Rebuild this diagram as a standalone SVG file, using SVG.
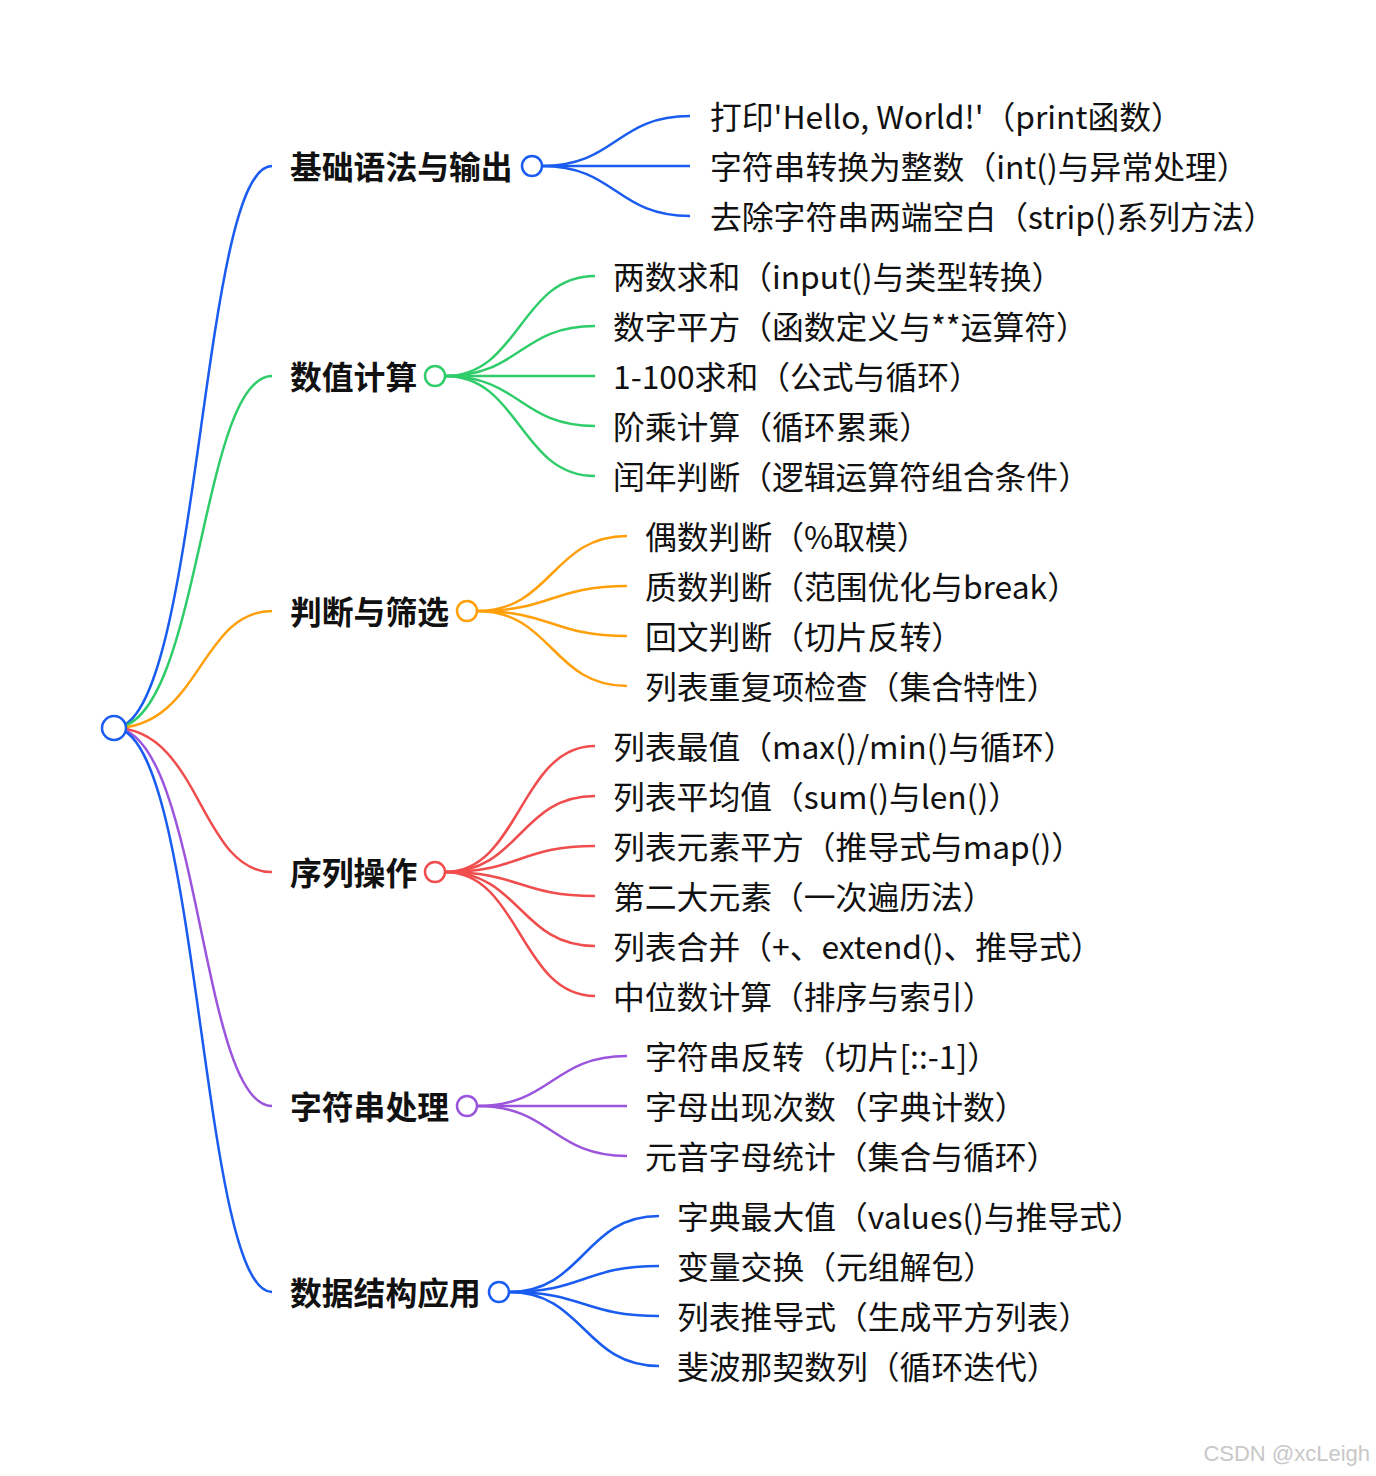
<svg xmlns="http://www.w3.org/2000/svg" width="1376" height="1476" viewBox="0 0 1376 1476">
<style>
.c{font-family:"Noto Sans CJK SC","Noto Sans",sans-serif;font-size:31.8px;font-weight:bold;fill:#111}
.l{font-family:"Noto Sans CJK SC","Noto Sans",sans-serif;font-size:31.8px;fill:#111}
path{fill:none;stroke-width:2.5}
.b{stroke:#1a5cf0}.g{stroke:#2fcc6a}.o{stroke:#ff9f0a}.r{stroke:#f04e4e}.p{stroke:#9b55dc}
circle{fill:#fff;stroke-width:2.5}
</style>
<rect width="1376" height="1476" fill="#fff"/>
<g id="connectors">
<path class="b" d="M114,728 C200,728 200,166 272,166"/>
<path class="g" d="M114,728 C200,728 200,376 272,376"/>
<path class="o" d="M114,728 C200,728 200,611 272,611"/>
<path class="r" d="M114,728 C200,728 200,872 272,872"/>
<path class="p" d="M114,728 C200,728 200,1106 272,1106"/>
<path class="b" d="M114,728 C200,728 200,1292 272,1292"/>
<path class="b" d="M542,166 C616,166 616,116 690,116"/>
<path class="b" d="M542,166 L690,166"/>
<path class="b" d="M542,166 C616,166 616,216 690,216"/>
<path class="g" d="M445,376 C520,376 520,276 595,276"/>
<path class="g" d="M445,376 C520,376 520,326 595,326"/>
<path class="g" d="M445,376 L595,376"/>
<path class="g" d="M445,376 C520,376 520,426 595,426"/>
<path class="g" d="M445,376 C520,376 520,476 595,476"/>
<path class="o" d="M477,611 C552,611 552,536 627,536"/>
<path class="o" d="M477,611 C552,611 552,586 627,586"/>
<path class="o" d="M477,611 C552,611 552,636 627,636"/>
<path class="o" d="M477,611 C552,611 552,686 627,686"/>
<path class="r" d="M445,872 C520,872 520,746 595,746"/>
<path class="r" d="M445,872 C520,872 520,796 595,796"/>
<path class="r" d="M445,872 C520,872 520,846 595,846"/>
<path class="r" d="M445,872 C520,872 520,896 595,896"/>
<path class="r" d="M445,872 C520,872 520,946 595,946"/>
<path class="r" d="M445,872 C520,872 520,996 595,996"/>
<path class="p" d="M477,1106 C552,1106 552,1056 627,1056"/>
<path class="p" d="M477,1106 L627,1106"/>
<path class="p" d="M477,1106 C552,1106 552,1156 627,1156"/>
<path class="b" d="M509,1292 C584,1292 584,1216 659,1216"/>
<path class="b" d="M509,1292 C584,1292 584,1266 659,1266"/>
<path class="b" d="M509,1292 C584,1292 584,1316 659,1316"/>
<path class="b" d="M509,1292 C584,1292 584,1366 659,1366"/>
</g>
<g id="root"><circle cx="114" cy="728" r="12" class="b"/></g>
<g id="n1"><text class="c" x="290" y="179">基础语法与输出</text><circle cx="532" cy="166" r="10" class="b"/></g>
<g id="n2"><text class="c" x="290" y="389">数值计算</text><circle cx="435" cy="376" r="10" class="g"/></g>
<g id="n3"><text class="c" x="290" y="624">判断与筛选</text><circle cx="467" cy="611" r="10" class="o"/></g>
<g id="n4"><text class="c" x="290" y="885">序列操作</text><circle cx="435" cy="872" r="10" class="r"/></g>
<g id="n5"><text class="c" x="290" y="1119">字符串处理</text><circle cx="467" cy="1106" r="10" class="p"/></g>
<g id="n6"><text class="c" x="290" y="1305">数据结构应用</text><circle cx="499" cy="1292" r="10" class="b"/></g>
<g id="leaves">
<text class="l" x="710" y="129">打印'Hello, World!'（print函数）</text>
<text class="l" x="710" y="179">字符串转换为整数（int()与异常处理）</text>
<text class="l" x="710" y="229">去除字符串两端空白（strip()系列方法）</text>
<text class="l" x="613" y="289">两数求和（input()与类型转换）</text>
<text class="l" x="613" y="339">数字平方（函数定义与**运算符）</text>
<text class="l" x="613" y="389">1-100求和（公式与循环）</text>
<text class="l" x="613" y="439">阶乘计算（循环累乘）</text>
<text class="l" x="613" y="489">闰年判断（逻辑运算符组合条件）</text>
<text class="l" x="645" y="549">偶数判断（%取模）</text>
<text class="l" x="645" y="599">质数判断（范围优化与break）</text>
<text class="l" x="645" y="649">回文判断（切片反转）</text>
<text class="l" x="645" y="699">列表重复项检查（集合特性）</text>
<text class="l" x="613" y="759">列表最值（max()/min()与循环）</text>
<text class="l" x="613" y="809">列表平均值（sum()与len()）</text>
<text class="l" x="613" y="859">列表元素平方（推导式与map()）</text>
<text class="l" x="613" y="909">第二大元素（一次遍历法）</text>
<text class="l" x="613" y="959">列表合并（+、extend()、推导式）</text>
<text class="l" x="613" y="1009">中位数计算（排序与索引）</text>
<text class="l" x="645" y="1069">字符串反转（切片[::-1]）</text>
<text class="l" x="645" y="1119">字母出现次数（字典计数）</text>
<text class="l" x="645" y="1169">元音字母统计（集合与循环）</text>
<text class="l" x="677" y="1229">字典最大值（values()与推导式）</text>
<text class="l" x="677" y="1279">变量交换（元组解包）</text>
<text class="l" x="677" y="1329">列表推导式（生成平方列表）</text>
<text class="l" x="677" y="1379">斐波那契数列（循环迭代）</text>
</g>
<text x="1370" y="1461" text-anchor="end" style="font-family:'Liberation Sans',sans-serif;font-size:22px;fill:#c8c8c8">CSDN @xcLeigh</text>
</svg>
